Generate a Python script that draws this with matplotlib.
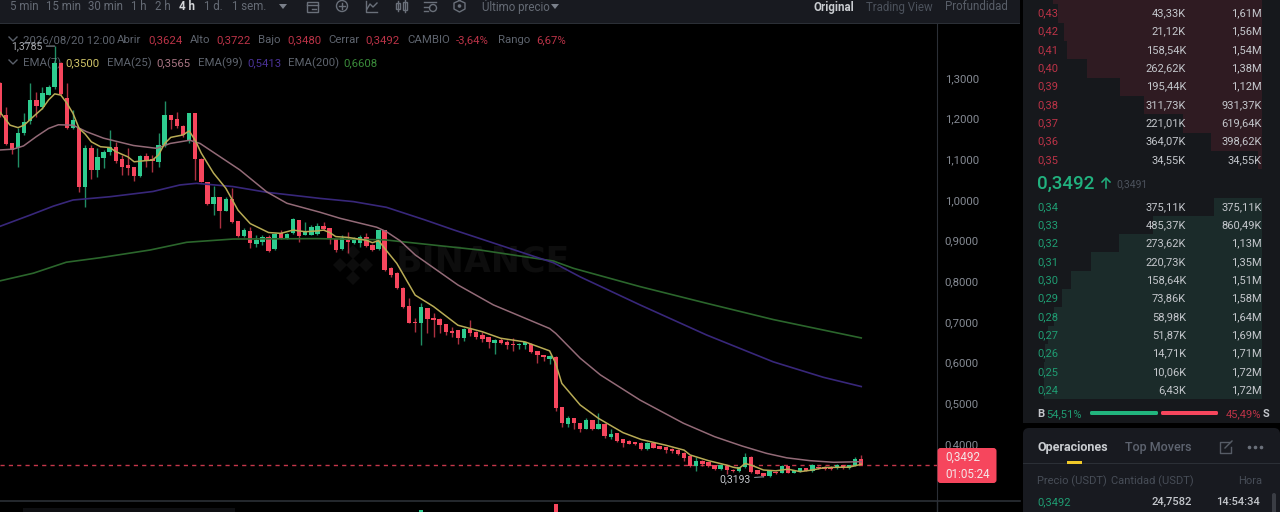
import matplotlib
matplotlib.use("Agg")
import matplotlib.pyplot as plt
from matplotlib.patches import Rectangle, FancyBboxPatch, Circle, Polygon

plt.rcParams['font.family'] = ['Roboto', 'DejaVu Sans']

# ---------- data ----------
opens = [1.287,1.209,1.139,1.127,1.164,1.195,1.246,1.228,1.258,1.277,
 1.338,1.252,1.176,1.176,1.031,1.127,1.074,1.104,1.117,1.131,
 1.100,1.086,1.080,1.059,1.108,1.100,1.094,1.135,1.209,1.199,
 1.183,1.147,1.213,1.102,1.045,.990,1.008,.974,1.002,.948,
 .911,.924,.893,.896,.910,.879,.918,.906,.918,.952,
 .914,.914,.916,.936,.930,.904,.879,.903,.895,.895,
 .908,.890,.879,.926,.832,.820,.784,.740,.701,.697,
 .734,.711,.707,.696,.679,.680,.661,.682,.676,.668,
 .662,.649,.656,.652,.647,.643,.643,.647,.629,.619,
 .610,.615,.492,.449,.463,.452,.438,.460,.438,.448,
 .418,.426,.413,.407,.404,.403,.387,.402,.394,.392,
 .388,.385,.378,.370,.346,.359,.355,.348,.338,.347,
 .337,.333,.344,.369,.336,.328,.3205,.332,.329,.347,
 .329,.332,.340,.334,.344,.344,.344,.340,.348,.340,
 .347,.3624]
highs = [1.290,1.229,1.139,1.176,1.213,1.287,1.266,1.279,1.283,1.3785,
 1.340,1.288,1.221,1.178,1.135,1.135,1.127,1.123,1.172,1.143,
 1.111,1.127,1.082,1.111,1.115,1.111,1.165,1.243,1.209,1.217,
 1.184,1.215,1.215,1.103,1.045,1.034,1.008,1.008,1.029,.949,
 .930,.934,.914,.914,.914,.920,.926,.918,.955,.952,
 .947,.938,.943,.947,.930,.904,.914,.922,.908,.914,
 .918,.893,.925,.926,.836,.822,.785,.758,.709,.746,
 .735,.721,.709,.696,.687,.680,.684,.706,.679,.676,
 .664,.657,.660,.656,.660,.649,.652,.649,.629,.620,
 .619,.616,.492,.469,.463,.452,.465,.460,.477,.451,
 .436,.426,.413,.410,.406,.406,.406,.403,.395,.392,
 .389,.387,.381,.373,.369,.360,.356,.348,.351,.349,
 .338,.344,.377,.370,.337,.329,.335,.334,.348,.347,
 .336,.341,.341,.352,.345,.345,.345,.351,.349,.349,
 .367,.3722]
lows = [1.205,1.136,1.113,1.082,1.160,1.188,1.205,1.225,1.258,1.274,
 1.258,1.174,1.174,1.019,.982,1.052,1.057,1.078,1.111,1.090,
 1.061,1.061,1.047,1.057,1.082,1.070,1.082,1.131,1.174,1.176,
 1.156,1.139,1.049,1.044,.988,.963,.930,.973,.944,.908,
 .908,.881,.885,.889,.871,.877,.903,.903,.916,.897,
 .913,.913,.914,.926,.893,.873,.877,.870,.893,.885,
 .885,.875,.877,.826,.810,.781,.734,.697,.676,.643,
 .674,.664,.674,.668,.664,.645,.654,.665,.657,.651,
 .635,.621,.646,.633,.629,.633,.633,.624,.598,.603,
 .597,.482,.441,.441,.438,.429,.436,.435,.436,.414,
 .412,.406,.392,.400,.397,.385,.385,.390,.387,.377,
 .379,.373,.359,.344,.334,.346,.344,.337,.337,.326,
 .331,.331,.340,.329,.3255,.3193,.3195,.327,.328,.328,
 .328,.331,.333,.332,.339,.337,.337,.339,.339,.339,
 .345,.348]
closes = [1.209,1.138,1.123,1.164,1.192,1.246,1.231,1.262,1.279,1.338,
 1.261,1.176,1.197,1.031,1.127,1.074,1.106,1.119,1.131,1.095,
 1.082,1.079,1.059,1.108,1.095,1.095,1.135,1.209,1.197,1.182,
 1.160,1.215,1.100,1.045,.990,1.008,.974,1.002,.945,.911,
 .926,.895,.902,.908,.875,.916,.906,.916,.953,.912,
 .922,.934,.936,.928,.906,.877,.906,.897,.903,.910,
 .888,.877,.925,.828,.816,.783,.736,.698,.697,.736,
 .708,.705,.693,.676,.672,.660,.682,.672,.664,.657,
 .650,.656,.649,.643,.643,.647,.651,.626,.618,.613,
 .616,.488,.451,.465,.451,.438,.460,.437,.448,.419,
 .424,.407,.403,.401,.399,.387,.402,.391,.388,.385,
 .383,.375,.365,.346,.358,.351,.346,.339,.349,.337,
 .333,.343,.369,.332,.327,.3205,.334,.328,.346,.329,
 .336,.340,.334,.348,.340,.338,.338,.348,.340,.348,
 .3624,.3492]

ema7_idx = [0,1.7,3,4,5.5,7,8,9,10,11,12,13,14,15,16.5,18,19,21,22,24,25,26,27,28,30,31,32,33,35,37,39,41,44,46,48,50,52,
 53,54,55,57,60,61,62,63,65,68,71,75,79,82,86,90,91,92,95,98,102,105,109,112,113,116,119,120,121,122,123,125,127,129,131,133,135,138,139,141]
ema7_val = [1.217,1.184,1.178,1.184,1.205,1.225,1.246,1.261,1.258,1.238,1.213,1.176,1.162,1.143,1.131,1.129,1.119,1.106,1.094,1.097,1.098,1.111,1.139,1.154,1.160,1.170,1.147,1.115,1.066,1.029,.975,.942,.920,.918,.926,.922,.924,
 .926,.920,.910,.908,.901,.895,.900,.881,.844,.766,.738,.692,.676,.660,.651,.629,.598,.549,.496,.463,.428,.411,.397,.385,.373,.359,.348,.343,.340,.352,.348,.336,.334,.338,.332,.336,.342,.343,.343,.350]
ema25_idx = [0,2.2,3.9,6,8,9.6,12,14.2,17,21.9,25.7,27.9,31.1,32.8,36.1,39.3,43.7,47,52.4,55.7,61.7,63.3,65.5,68,75,80.8,90,91,95,98.3,104.8,111.9,117,121.5,125.5,128.8,132.6,136.5,141]
ema25_val = [1.123,1.125,1.133,1.156,1.176,1.185,1.184,1.168,1.152,1.134,1.127,1.139,1.147,1.139,1.106,1.074,1.020,.992,.970,.955,.933,.922,.900,.865,.791,.742,.684,.672,.611,.570,.508,.451,.418,.395,.377,.366,.359,.355,.3565]
ema99_idx = [0,5,8.8,12,18,25.1,29.5,32.2,38.2,43.7,52.4,57.9,63.3,69.6,74.2,87.3,90.6,95,104.8,115.7,126.6,134.8,141]
ema99_val = [.935,.963,.985,1.000,1.008,1.021,1.037,1.041,1.033,1.019,1.004,.996,.982,.951,.927,.862,.846,.811,.742,.668,.602,.564,.5413]
ema200_idx = [0,5.5,10.9,16.4,24.6,30.6,38.2,52,63,78.6,90.6,93.9,104.8,115.7,126.6,141]
ema200_val = [.801,.820,.847,.858,.877,.896,.904,.905,.902,.877,.850,.832,.787,.746,.706,.6608]

y_ticks = [1.3,1.2,1.1,1.0,.9,.8,.7,.6,.5,.4]
y_labels = ['1,3000','1,2000','1,1000','1,0000','0,9000','0,8000','0,7000','0,6000','0,5000','0,4000']

ask_prices = ['0,43','0,42','0,41','0,40','0,39','0,38','0,37','0,36','0,35']
ask_sizes = ['43,33K','21,12K','158,54K','262,62K','195,44K','311,73K','221,01K','364,07K','34,55K']
ask_totals = ['1,61M','1,56M','1,54M','1,38M','1,12M','931,37K','619,64K','398,62K','34,55K']
ask_depth = [1.65,1.61,1.56,1.54,1.38,1.12,.93137,.61964,.39862,.03455]   # first row is the clipped 0,44 level
bid_prices = ['0,34','0,33','0,32','0,31','0,30','0,29','0,28','0,27','0,26','0,25','0,24']
bid_sizes = ['375,11K','485,37K','273,62K','220,73K','158,64K','73,86K','58,98K','51,87K','14,71K','10,06K','6,43K']
bid_totals = ['375,11K','860,49K','1,13M','1,35M','1,51M','1,58M','1,64M','1,69M','1,71M','1,72M','1,72M']
bid_depth = [.37511,.86049,1.13,1.35,1.51,1.58,1.64,1.69,1.71,1.72,1.72]

vol_idx = [69, 91]
vol_val = [92, 120]
timeframes = [('5 min',10),('15 min',46),('30 min',88),('1 h',131),('2 h',155),('1 d.',204),('1 sem.',232)]

# ---------- colours ----------
UP, DOWN = '#2ecc8f', '#f6465d'
BAR = '#181a20'; PANEL = '#16181c'; GRID = '#2b2f36'; GREY = '#5e646e'; LGREY = '#c4c7cc'
TXT_RED = '#bb3347'; TXT_GREEN = '#1f9c72'
C7, C25, C99, C200 = '#b8ab55', '#936a77', '#38277a', '#2b662c'

W, H = 1280, 512
fig = plt.figure(figsize=(W/100, H/100), dpi=100, facecolor='black')

def px_axes(x0, y0, x1, y1, z):
    a = fig.add_axes([x0/W, 1-y1/H, (x1-x0)/W, (y1-y0)/H], zorder=z)
    return a

# background layer in pixel coordinates
bg = px_axes(0, 0, W, H, 0)
bg.set_xlim(0, W); bg.set_ylim(H, 0); bg.axis('off')
def T(ax, x, y, s, c=GREY, fs=8, ha='left', w='normal', **kw):
    return ax.text(x, y, s, color=c, fontsize=fs, ha=ha, va='center', fontweight=w, **kw)

bg.add_patch(Rectangle((0, 0), 1020, 23.5, color=BAR, lw=0))
bg.add_patch(Rectangle((0, 23), 1020, 1.2, color=GRID, lw=0))
bg.add_patch(Rectangle((1023, 0), 257, 423, color=PANEL, lw=0))
bg.add_patch(FancyBboxPatch((1023, 428), 257, 100, boxstyle='round,pad=0,rounding_size=6', color=BAR, lw=0))
bg.add_patch(Rectangle((1023, 463.4), 257, 1, color=GRID, lw=0))
bg.add_patch(Rectangle((23, 508), 212, 5, color='#0e0f12', lw=0))

for s, x in timeframes:
    T(bg, x, 7, s, '#656b75', 8.3)
T(bg, 179, 7, '4 h', '#d5d7da', 8.3, w='bold')
bg.add_patch(Polygon([(279, 4), (287, 4), (283, 9)], color='#7a808a', lw=0))
T(bg, 482, 7, 'Último precio', '#656b75', 8.3)
bg.add_patch(Polygon([(551, 4), (559, 4), (555, 9)], color='#7a808a', lw=0))
T(bg, 813, 7, 'Original', '#c9ccd0', 8.3, w='bold')
T(bg, 866, 7, 'Trading View', '#4c525c', 8.3)
T(bg, 945, 7, 'Profundidad', '#585e68', 8.3)

# toolbar icons
ic = '#6a707a'
bg.add_patch(Rectangle((307, 2), 11, 10, fill=False, ec=ic, lw=1))
bg.plot([307, 318], [5, 5], color=ic, lw=1)
bg.plot([311.5, 315.5], [8.5, 8.5], color=ic, lw=1)
bg.add_patch(Circle((342, 6), 5.5, fill=False, ec=ic, lw=1))
bg.plot([339, 345], [6, 6], color=ic, lw=1); bg.plot([342, 342], [3, 9], color=ic, lw=1)
bg.plot([366, 366, 377], [1, 12, 12], color=ic, lw=1)
bg.plot([367, 370, 373, 377], [9, 4, 7, 3], color=ic, lw=1)
bg.add_patch(Rectangle((396, 3), 3.5, 6, fill=False, ec=ic, lw=1))
bg.add_patch(Rectangle((403, 2), 3.5, 8, fill=False, ec=ic, lw=1))
bg.plot([397.7, 397.7], [1, 11], color=ic, lw=1); bg.plot([404.7, 404.7], [0, 12], color=ic, lw=1)
bg.plot([424, 436], [2, 2], color=ic, lw=1); bg.plot([424, 428], [11, 11], color=ic, lw=1)
bg.plot([424, 429], [7, 7], color=ic, lw=1)
bg.add_patch(Circle((433, 8), 3.5, fill=False, ec=ic, lw=1))
bg.plot([459.5, 465, 465, 459.5, 454, 454, 459.5], [0.5, 3, 9, 12, 9, 3, 0.5], color=ic, lw=1)
bg.add_patch(Circle((459.5, 6), 1.8, color=ic, lw=0))

# legend rows (under the candles)
for yy in (40, 63):
    bg.plot([9, 13, 17], [yy-3, yy+1, yy-3], color='#5a606a', lw=1)
T(bg, 23, 40, '2026/08/20 12:00', fs=8.2)
for x, s in [(117, 'Abrir'), (190, 'Alto'), (258, 'Bajo'), (328, 'Cerrar'), (407, 'CAMBIO'), (498, 'Rango')]:
    T(bg, x, 40, s, fs=8.2)
for x, s in [(148, '0,3624'), (216, '0,3722'), (287, '0,3480'), (365, '0,3492'), (456, '-3,64%'), (536, '6,67%')]:
    T(bg, x, 40, s, TXT_RED, 8.2)
for x, s in [(23, 'EMA(7)'), (107, 'EMA(25)'), (198, 'EMA(99)'), (288, 'EMA(200)')]:
    T(bg, x, 63, s, fs=8.2)
T(bg, 65, 63, '0,3500', '#d0c468', 8.2); T(bg, 156, 63, '0,3565', '#a87583', 8.2)
T(bg, 247, 63, '0,5413', '#4a3296', 8.2); T(bg, 343, 63, '0,6608', '#3a8a3a', 8.2)

# watermark
T(bg, 396, 261, 'BINANCE', '#0d0d0d', 25, w='bold', family='DejaVu Sans')
for (x, y, sz) in [(353, 265, 7), (353, 252, 7), (353, 278, 7), (340, 265, 7), (366, 265, 7)]:
    bg.plot([x], [y], marker='D', ms=sz, color='#0c0c0c', mew=0)

# order book depth
ax_ask = px_axes(1044, 0, 1262, 169.2, 1)
ax_ask.set_xlim(1.72, 0); ax_ask.set_ylim(9.5, 0.27); ax_ask.axis('off')
ax_ask.barh(range(len(ask_depth)), ask_depth, height=1.0, color='#2f1b22', lw=0)
ax_bid = px_axes(1044, 197.5, 1262, 398.7, 1)
ax_bid.set_xlim(1.72, 0); ax_bid.set_ylim(10.5, -0.5); ax_bid.axis('off')
ax_bid.barh(range(len(bid_depth)), bid_depth, height=1.0, color='#1b2b2a', lw=0)

# candlestick chart
ax = px_axes(0, 24, 937, 501, 2)
ax.patch.set_alpha(0)
ax.set_xlim(0.05, 153.4)
ax.set_ylim(0.2598, 1.4328)
xs = list(range(len(opens)))
for i in xs:
    col = UP if closes[i] >= opens[i] else DOWN
    ax.vlines(i, lows[i], highs[i], color=col, lw=1.0, alpha=.7, zorder=2)
    ax.bar(i, abs(closes[i]-opens[i]), bottom=min(opens[i], closes[i]), width=.72, color=col, lw=0, zorder=3)
ax.plot(ema200_idx, ema200_val, color=C200, lw=1.2, zorder=4)
ax.plot(ema99_idx, ema99_val, color=C99, lw=1.2, zorder=4)
ax.plot(ema25_idx, ema25_val, color=C25, lw=1.1, zorder=4)
ax.plot(ema7_idx, ema7_val, color=C7, lw=1.1, zorder=5)
ax.axhline(closes[-1], color=DOWN, lw=1, ls=(0, (3, 3)), alpha=.8, zorder=1)
ax.yaxis.tick_right()
ax.set_yticks(y_ticks); ax.set_yticklabels(y_labels)
ax.tick_params(axis='y', length=0, pad=5.5, labelsize=8.2, labelcolor='#858a93')
ax.set_xticks([])
for s in ('top', 'left', 'bottom'):
    ax.spines[s].set_visible(False)
ax.spines['right'].set_color(GRID)

# high / low annotations
i_hi = highs.index(max(highs)); i_lo = lows.index(min(lows))
ax.annotate('1,3785', xy=(i_hi, highs[i_hi]), xytext=(-9, 0), textcoords='offset points',
            color='#a9acb2', fontsize=7.5, ha='right', va='center', zorder=6,
            arrowprops=dict(arrowstyle='-', color='#8a8f98', lw=.8, shrinkA=1, shrinkB=0))
ax.annotate('0,3193', xy=(i_lo, lows[i_lo]), xytext=(-9.4, -1.5), textcoords='offset points',
            color='#c4c7cc', fontsize=7.5, ha='right', va='center', zorder=6,
            arrowprops=dict(arrowstyle='-', color='#8a8f98', lw=.8, shrinkA=1, shrinkB=0))

# volume pane (only the top of two bars is on screen)
axv = px_axes(0, 502, 937, 512, 2)
axv.patch.set_alpha(0); axv.axis('off')
axv.set_xlim(0.05, 153.4); axv.set_ylim(85, 130)
axv.bar(vol_idx, vol_val, width=.72, color=[UP, DOWN], lw=0, bottom=0)

# top layer
top = px_axes(0, 0, W, H, 3)
top.set_xlim(0, W); top.set_ylim(H, 0); top.axis('off'); top.patch.set_alpha(0)
top.plot([937, 937], [501, 512], color=GRID, lw=1)
top.plot([0, 1020], [501, 501], color=GRID, lw=1.2)
T(top, 945, 516, '100,00M', '#858a93', 8.2)
top.add_patch(FancyBboxPatch((937.5, 448), 59, 35, boxstyle='round,pad=0,rounding_size=3', color='#f6465d', lw=0))
T(top, 945, 457, '0,3492', '#f4e6e8', 8.4)
T(top, 945, 475, '01:05:24', '#f4e6e8', 8.4)

for k, (p, s, t) in enumerate(zip(ask_prices, ask_sizes, ask_totals)):
    y = 13.3 + k*18.33
    T(top, 1037, y, p, TXT_RED); T(top, 1186, y, s, LGREY, ha='right'); T(top, 1262, y, t, LGREY, ha='right')
for k, (p, s, t) in enumerate(zip(bid_prices, bid_sizes, bid_totals)):
    y = 207 + k*18.33
    T(top, 1037, y, p, TXT_GREEN); T(top, 1186, y, s, LGREY, ha='right'); T(top, 1262, y, t, LGREY, ha='right')

T(top, 1037, 184, '0,3492', '#21b27f', 13.5, w='medium')
top.plot([1106, 1106], [178.5, 188], color='#21b27f', lw=1.1)
top.plot([1102, 1106, 1110], [182, 178, 182], color='#21b27f', lw=1.1)
T(top, 1116, 184, '0,3491', '#4c525c', 7.5)

T(top, 1037, 414, 'B', LGREY, 8, w='bold'); T(top, 1046, 414, '54,51%', TXT_GREEN)
top.add_patch(FancyBboxPatch((1090, 411), 68, 4, boxstyle='round,pad=0,rounding_size=1.5', color='#22b57e', lw=0))
top.add_patch(FancyBboxPatch((1161, 411), 57, 4, boxstyle='round,pad=0,rounding_size=1.5', color='#f6465d', lw=0))
T(top, 1261, 414, '45,49%', TXT_RED, ha='right'); T(top, 1263, 414, 'S', LGREY, 8, w='bold')

T(top, 1037, 448, 'Operaciones', '#c9ccd0', 9, w='bold')
T(top, 1125, 448, 'Top Movers', '#5e6470', 9, w='medium')
top.plot([1230, 1220, 1220, 1231, 1231], [442, 442, 453, 453, 447], color='#565c66', lw=1)
top.plot([1225, 1232], [448, 441], color='#565c66', lw=1)
top.plot([1249, 1255, 1261], [447, 447, 447], ls='', marker='o', ms=1.6, color='#6a707a')
top.add_patch(Rectangle((1067, 461.3), 15, 2.5, color='#f0c929', lw=0))
T(top, 1037, 481, 'Precio (USDT)', '#474d57', 8)
T(top, 1111, 481, 'Cantidad (USDT)', '#474d57', 8)
T(top, 1262, 481, 'Hora', '#474d57', 8, ha='right')
T(top, 1037, 502, '0,3492', TXT_GREEN)
T(top, 1192, 502, '24,7582', LGREY, ha='right', w='medium')
T(top, 1260, 502, '14:54:34', LGREY, ha='right', w='medium')
top.add_patch(FancyBboxPatch((1272, 493), 4, 30, boxstyle='round,pad=0,rounding_size=2', color='#3a3d44', lw=0))

fig.savefig('out.png', dpi=100, facecolor='black')
